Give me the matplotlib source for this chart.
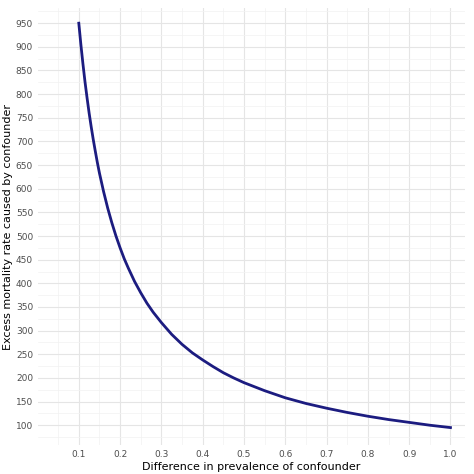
import matplotlib
matplotlib.use("Agg")
import matplotlib.pyplot as plt
import numpy as np

# values
prevalence_diff = [0.100, 0.105, 0.110, 0.115, 0.120, 0.125, 0.130, 0.135, 0.140,
                   0.145, 0.150, 0.160, 0.170, 0.180, 0.190, 0.200, 0.210, 0.220,
                   0.235, 0.250, 0.265, 0.280, 0.300, 0.325, 0.350, 0.375, 0.400,
                   0.425, 0.450, 0.475, 0.500, 0.550, 0.600, 0.650, 0.700, 0.750,
                   0.800, 0.850, 0.900, 0.950, 1.000]
excess_mortality = [950, 905, 864, 826, 792, 760, 731, 704, 679,
                    655, 633, 594, 559, 528, 500, 475, 452, 432,
                    404, 380, 358, 339, 317, 292, 271, 253, 238,
                    224, 211, 200, 190, 173, 158, 146, 136, 127,
                    119, 112, 106, 100, 95]

x_ticks = [0.1, 0.2, 0.3, 0.4, 0.5, 0.6, 0.7, 0.8, 0.9, 1.0]
x_labels = ["0.1", "0.2", "0.3", "0.4", "0.5", "0.6", "0.7", "0.8", "0.9", "1.0"]
y_ticks = list(range(100, 1000, 50))

fig = plt.figure(figsize=(4.74, 4.74), dpi=100)
ax = fig.add_axes([0.08, 0.061, 0.9, 0.922])

ax.plot(prevalence_diff, excess_mortality, color="#1c1c80", lw=2)

ax.set_xlim(0.001, 1.034)
ax.set_ylim(58, 982)
ax.set_xticks(x_ticks)
ax.set_xticklabels(x_labels)
ax.set_yticks(y_ticks)
ax.set_xticks(np.arange(0.05, 1.04, 0.1), minor=True)
ax.set_yticks(np.arange(75, 976, 50), minor=True)
ax.grid(which="major", color="#e5e5e5", lw=0.8)
ax.grid(which="minor", color="#f2f2f2", lw=0.5)
ax.tick_params(which="both", length=0, labelsize=6.5, colors="#4d4d4d")
for s in ax.spines.values():
    s.set_visible(False)

ax.set_xlabel("Difference in prevalence of confounder", fontsize=8, labelpad=2)
ax.set_ylabel("Excess mortality rate caused by confounder", fontsize=8, labelpad=2)

fig.savefig("out.png", dpi=100)
